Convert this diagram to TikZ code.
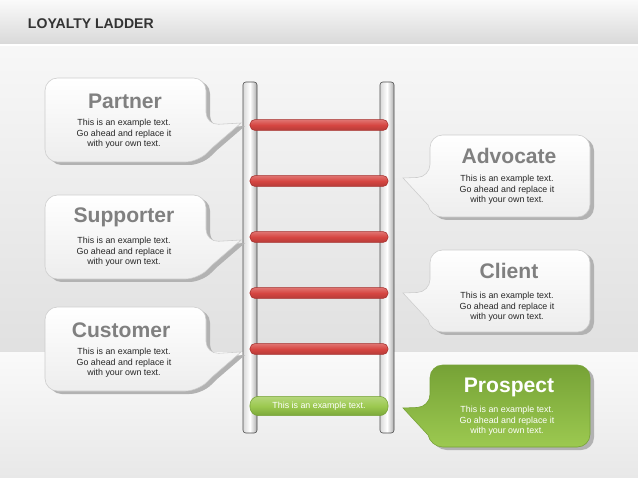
\documentclass[tikz,border=0pt]{standalone}
\usepackage{fontspec}
\setmainfont{Liberation Sans}
\usetikzlibrary{calc}
\definecolor{rungred}{RGB}{214,70,66}
\definecolor{rungdark}{RGB}{165,45,42}
\definecolor{leafdark}{RGB}{118,162,54}
\definecolor{leaflight}{RGB}{156,201,80}
\definecolor{titlegray}{RGB}{128,128,128}
% speech bubble outlines, #1 = top edge
\newcommand{\leftbub}[1]{(45,#1+40) -- (45,#1) -- (206,#1) -- (206,#1+47) [sharp corners] -- (241,#1+45) -- (212,#1+70) [rounded corners=9pt] -- (198,#1+84) -- (45,#1+84) -- cycle}
\newcommand{\rightbub}[1]{(590,#1+40) -- (590,#1) -- (430,#1) -- (430,#1+42) [sharp corners] -- (403,#1+43) -- (428,#1+70) [rounded corners=9pt] -- (430,#1+82) -- (590,#1+82) -- cycle}

\begin{document}
\begin{tikzpicture}[x=0.025cm, y=-0.025cm,
	bubble/.style={draw=gray!40, rounded corners=9pt, top color=white, bottom color=gray!14},
	greenbubble/.style={draw=leafdark, rounded corners=9pt, top color=leafdark, bottom color=leaflight},
	shadow/.style={fill=gray!60, rounded corners=9pt},
	head/.style={font=\bfseries\fontsize{15}{18}\selectfont, text=titlegray},
	body/.style={font=\fontsize{6.3}{7.4}\selectfont, align=center, text=black!85},
	rail/.style={draw=gray!60!black, left color=gray!30, right color=gray!65, middle color=white, rounded corners=2pt},
	rung/.style={draw=rungdark, top color=rungred!75!white, bottom color=rungred!85!black, middle color=rungred, rounded corners=3.5pt, minimum width=3.45cm, minimum height=0.27cm, inner sep=0pt}]
	\useasboundingbox (0,0) rectangle (638,478);

	% background
	\shade [top color=white!98!black, bottom color=gray!30] (0,0) rectangle (638,44);
	\shade [top color=white!97!black, bottom color=gray!24] (0,46) rectangle (638,352);
	\shade [top color=white!98!black, bottom color=gray!18] (0,352) rectangle (638,478);
	\draw [white, line width=1pt] (0,45) -- (638,45);
	\node [anchor=west, font=\bfseries\fontsize{10}{12}\selectfont, text=black!80] (title) at (23,24) {LOYALTY LADDER};

	% ladder
	\path [rail] (243,82) rectangle (257,433);
	\path [rail] (380,82) rectangle (394,433);
	\foreach \y [count=\i] in {125,181,237,293,349}
		\node [rung] (rung\i) at (319,\y) {};
	\node [rung, draw=leafdark, top color=leaflight!75!white, bottom color=leafdark!85!leaflight, middle color=leaflight, minimum height=0.48cm, rounded corners=6pt,
		font=\fontsize{6.3}{7.4}\selectfont, text=white] (rung6) at (319,406) {This is an example text.};

	% left bubbles
	\foreach \t in {78,195,307} {
		\path [shadow, shift={(4,3)}] \leftbub{\t};
		\path [bubble] \leftbub{\t};
	}
	\node [head] (partner) at (125,101) {Partner};
	\node [body] (partnertext) at (124,134) {This is an example text.\\Go ahead and replace it\\with your own text.};
	\node [head] (supporter) at (124,217) {Supporter};
	\node [body] (supportertext) at (124,252) {This is an example text.\\Go ahead and replace it\\with your own text.};
	\node [head] (customer) at (121,330) {Customer};
	\node [body] (customertext) at (124,363) {This is an example text.\\Go ahead and replace it\\with your own text.};

	% right bubbles
	\foreach \t in {135,250,365}
		\path [shadow, shift={(4,3)}] \rightbub{\t};
	\path [bubble] \rightbub{135};
	\path [bubble] \rightbub{250};
	\path [greenbubble] \rightbub{365};
	\node [head] (advocate) at (509,156) {Advocate};
	\node [body] (advocatetext) at (507,190) {This is an example text.\\Go ahead and replace it\\with your own text.};
	\node [head] (client) at (509,271) {Client};
	\node [body] (clienttext) at (507,307) {This is an example text.\\Go ahead and replace it\\with your own text.};
	\node [head, text=white] (prospect) at (509,387) {Prospect};
	\node [body, text=white] (prospecttext) at (507,421) {This is an example text.\\Go ahead and replace it\\with your own text.};
\end{tikzpicture}
\end{document}
